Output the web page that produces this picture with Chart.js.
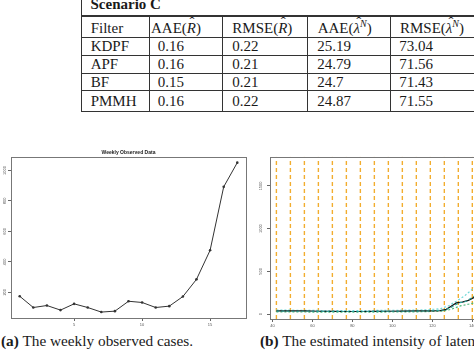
<!DOCTYPE html>
<html><head><meta charset="utf-8">
<script src="https://cdn.jsdelivr.net/npm/chart.js@4/dist/chart.umd.min.js"></script>
<style>
html,body{margin:0;padding:0;width:474px;height:351px;overflow:hidden;background:#fff;position:relative;}
.t{position:absolute;font-family:"Liberation Serif","DejaVu Serif",serif;font-size:15px;color:#1a1a1a;white-space:nowrap;height:18px;line-height:18px;}
.hl{position:absolute;background:#333;}
.hat{position:relative;font-style:italic;}
.hat b{position:absolute;font-weight:normal;font-style:normal;left:0.18em;top:-0.42em;}
sup{font-size:10px;font-style:italic;vertical-align:0;position:relative;top:-6px;}
.cap{position:absolute;font-family:"Liberation Serif","DejaVu Serif",serif;font-size:15.3px;color:#1a1a1a;white-space:nowrap;top:331.5px;}
canvas{position:absolute;}
</style>
</head><body>
<div id="tbl"></div>
<canvas id="c1" width="250" height="190" style="left:0;top:140px;width:250px;height:190px"></canvas>
<canvas id="c2" width="250" height="190" style="left:250px;top:140px;width:250px;height:190px"></canvas>
<div class="cap" style="left:1px"><b>(a)</b> The weekly observed cases.</div>
<div class="cap" style="left:260px"><b>(b)</b> The estimated intensity of latent</div>
<script>
// ---- table content ----
const tableTitle = "Scenario C";
const filters = ["KDPF","APF","BF","PMMH"];
const aaeR = ["0.16","0.16","0.15","0.16"];
const rmseR = ["0.22","0.21","0.21","0.22"];
const aaeLambda = ["25.19","24.79","24.7","24.87"];
const rmseLambda = ["73.04","71.56","71.43","71.55"];
const hatR = '<span class="hat">R<b>ˆ</b></span>';
const hatL = '<span class="hat">λ<b>ˆ</b></span><sup>N</sup>';
const headers = ["Filter","AAE("+hatR+")","RMSE("+hatR+")","AAE("+hatL+")","RMSE("+hatL+")"];

// ---- chart (a) data ----
const weeks = [1,2,3,4,5,6,7,8,9,10,11,12,13,14,15,16,17];
const weeklyCases = [174,100,113,83,124,100,70,76,141,133,100,109,172,285,476,893,1052];
const leftXTicks = [5,10,15];
const leftYTicks = [200,400,600,800,1000];

// ---- chart (b) data ----
const weekDays = [42,49,56,63,70,77,84,91,98,105,112,119,126,133,140,147];
const blackDays = [42,49,56,63,70,77,84,91,98,105,112,119,124,127,130,132,135,138,141,144];
const blackVals = [38,37,36,33,31,30,30,31,33,35,36,37,40,55,100,130,140,160,195,215];
const tealDays = [42,56,70,84,98,112,120,126,130,133,137,141,144];
const tealVals = [34,33,30,29,32,34,38,46,85,128,150,210,235];
const upperDays = [42,56,70,84,98,112,118,124,128,132,136,141,144];
const upperVals = [46,44,40,40,44,46,50,62,95,150,210,310,340];
const lowerDays = [42,56,70,84,98,112,120,126,130,134,138,141,144];
const lowerVals = [25,24,21,21,24,26,30,35,60,95,115,130,140];
const rightXTicks = [40,60,80,100,120,140];
const rightYTicks = [0,500,1000,1500];

// ---- build table ----
const tbl = document.getElementById('tbl');
function line(x,y,w,h){const d=document.createElement('div');d.className='hl';d.style.cssText=`left:${x}px;top:${y}px;width:${w}px;height:${h}px`;tbl.appendChild(d);}
function txt(x,cy,html,bold){const d=document.createElement('div');d.className='t';d.style.left=x+'px';d.style.top=(cy-9)+'px';if(bold)d.style.fontWeight='bold';d.innerHTML=html;tbl.appendChild(d);}
txt(90.5,4,tableTitle,true);
line(81,14.5,400,2);
const hLines=[36.5,54.5,72.5,89.5,110.5];
hLines.forEach(y=>line(81,y,400,1));
line(81,0,1,111.5);
[149,222,307,390].forEach(x=>line(x,16,1,95.5));
const headX=[90.7,151,232.3,317.7,400];
const dataX=[90.7,157.7,232.3,317.3,399.3];
headers.forEach((h,i)=>txt(headX[i],27.5,h));
const rowC=[46,64,82,100.5];
filters.forEach((f,r)=>{
  [f,aaeR[r],rmseR[r],aaeLambda[r],rmseLambda[r]].forEach((v,i)=>txt(dataX[i],rowC[r],v));
});

// ---- plugin: frame, rotated y labels, title ----
const deco = {
  id:'deco',
  afterDraw(chart, args, o){
    const {ctx, chartArea:a} = chart;
    ctx.save();
    ctx.strokeStyle = o.frame || '#777'; ctx.lineWidth = 1;
    ctx.strokeRect(Math.round(a.left)+0.5, Math.round(a.top)+0.5, Math.round(a.right-a.left), Math.round(a.bottom-a.top));
    const ys = chart.scales.y;
    ctx.fillStyle = '#555'; ctx.font = '4px "Liberation Sans", sans-serif';
    ctx.textAlign='center'; ctx.textBaseline='middle';
    ys.ticks.forEach(t=>{
      const y = ys.getPixelForValue(t.value);
      ctx.save(); ctx.translate(o.labelX, y); ctx.rotate(-Math.PI/2);
      ctx.fillText(String(t.value),0,0); ctx.restore();
    });
    if(o.title){
      ctx.fillStyle='#222'; ctx.font='bold 5px "Liberation Sans", sans-serif';
      ctx.fillText(o.title,(a.left+a.right)/2, a.top-4.5);
    }
    ctx.restore();
  }
};

function axes(xmin,xmax,xt,ymin,ymax,yt,yw,xh){
  return {
    x:{type:'linear',min:xmin,max:xmax,
       afterBuildTicks:s=>{s.ticks=xt.map(v=>({value:v}));},
       afterFit:s=>{s.height=xh;},
       grid:{display:true,drawOnChartArea:false,drawTicks:true,tickLength:3,color:'#666'},
       border:{display:false},
       ticks:{font:{size:4},color:'#555',padding:1,maxRotation:0,autoSkip:false}},
    y:{type:'linear',min:ymin,max:ymax,
       afterBuildTicks:s=>{s.ticks=yt.map(v=>({value:v}));},
       afterFit:s=>{s.width=yw;},
       grid:{display:true,drawOnChartArea:false,drawTicks:true,tickLength:3,color:'#666'},
       border:{display:false},
       ticks:{display:false}}
  };
}

new Chart(document.getElementById('c1'),{
  type:'line',
  data:{datasets:[{data:weeks.map((w,i)=>({x:w,y:weeklyCases[i]})),borderColor:'#333',borderWidth:1,
    pointRadius:1.3,pointBackgroundColor:'#333',pointBorderWidth:0,tension:0}]},
  options:{responsive:false,animation:false,devicePixelRatio:1,
    layout:{padding:{top:16.7,right:4,left:0,bottom:0}},
    plugins:{legend:{display:false},tooltip:{enabled:false},deco:{labelX:5,title:'Weekly Observed Data'}},
    scales:axes(0.36,17.64,leftXTicks,31,1091,leftYTicks,11,12)},
  plugins:[deco]
});

const orangeSets = weekDays.map(d=>({data:[{x:d,y:-58},{x:d,y:1842}],borderColor:'#f2ad2e',borderWidth:1.4,
  borderDash:[4,3],pointRadius:0,order:10}));
new Chart(document.getElementById('c2'),{
  type:'line',
  data:{datasets:[
    {data:blackDays.map((d,i)=>({x:d,y:blackVals[i]})),borderColor:'#111',borderWidth:1.2,pointRadius:0,order:2},
    {data:tealDays.map((d,i)=>({x:d,y:tealVals[i]})),borderColor:'#2aa39a',borderWidth:1.1,borderDash:[3,2],pointRadius:0,order:1},
    {data:upperDays.map((d,i)=>({x:d,y:upperVals[i]})),borderColor:'#6fd8d8',borderWidth:1.2,borderDash:[2,2],pointRadius:0,order:3},
    {data:lowerDays.map((d,i)=>({x:d,y:lowerVals[i]})),borderColor:'#4cb87a',borderWidth:1.2,borderDash:[2,2],pointRadius:0,order:3},
    ...orangeSets
  ]},
  options:{responsive:false,animation:false,devicePixelRatio:1,
    layout:{padding:{top:16.7,right:7.7,left:0,bottom:0}},
    plugins:{legend:{display:false},tooltip:{enabled:false},deco:{labelX:11}},
    scales:axes(38.8,150,rightXTicks,-58,1842,rightYTicks,20,11)},
  plugins:[deco]
});
</script>
</body></html>
